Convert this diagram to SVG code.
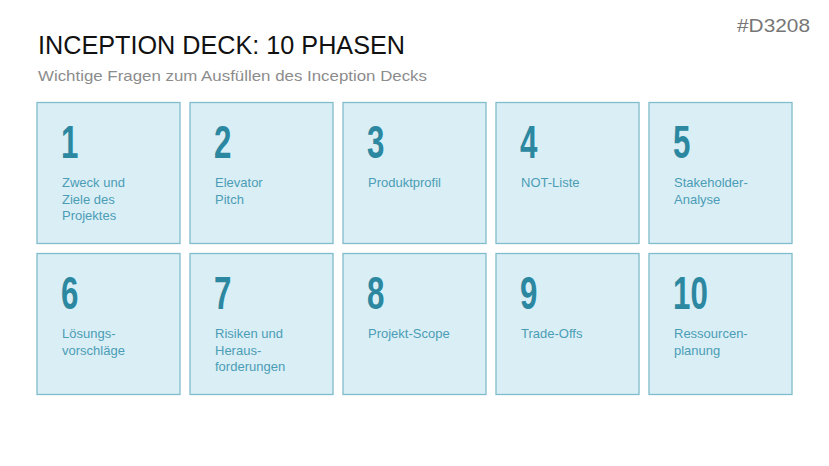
<svg xmlns="http://www.w3.org/2000/svg" width="829" height="466" viewBox="0 0 829 466">
<style>
.box{fill:#daeef5;stroke:#80bccb;stroke-width:1.3}
.num{font-family:"Liberation Sans",Arial,sans-serif;font-weight:bold;font-size:46px;fill:#2b88a0}
.lbl{font-family:"Liberation Sans",Arial,sans-serif;font-size:13px;fill:#4b9db5}
.title{font-family:"Liberation Sans",Arial,sans-serif;font-size:25.5px;fill:#111}
.sub{font-family:"Liberation Sans",Arial,sans-serif;font-size:15px;fill:#8c8c8c}
.code{font-family:"Liberation Sans",Arial,sans-serif;font-size:18.5px;fill:#767676}
</style>
<rect width="829" height="466" fill="#fff"/>
<text class="code" x="737" y="31.5" textLength="73" lengthAdjust="spacingAndGlyphs">#D3208</text>
<text class="title" x="38" y="53.5" textLength="367" lengthAdjust="spacingAndGlyphs">INCEPTION DECK: 10 PHASEN</text>
<text class="sub" x="38" y="80.5" textLength="389" lengthAdjust="spacingAndGlyphs">Wichtige Fragen zum Ausfüllen des Inception Decks</text>

<g id="n1"><rect class="box" x="37" y="102.5" width="143" height="141"/>
<text class="num" transform="translate(61,157.7) scale(0.68,1)">1</text>
<text class="lbl" x="62" y="187"><tspan x="62">Zweck und</tspan><tspan x="62" dy="16.7">Ziele des</tspan><tspan x="62" dy="16.7">Projektes</tspan></text></g>

<g id="n2"><rect class="box" x="190" y="102.5" width="143" height="141"/>
<text class="num" transform="translate(214,157.7) scale(0.68,1)">2</text>
<text class="lbl" x="215" y="187"><tspan x="215">Elevator</tspan><tspan x="215" dy="16.7">Pitch</tspan></text></g>

<g id="n3"><rect class="box" x="343" y="102.5" width="143" height="141"/>
<text class="num" transform="translate(367,157.7) scale(0.68,1)">3</text>
<text class="lbl" x="368" y="187">Produktprofil</text></g>

<g id="n4"><rect class="box" x="496" y="102.5" width="143" height="141"/>
<text class="num" transform="translate(520,157.7) scale(0.68,1)">4</text>
<text class="lbl" x="521" y="187">NOT-Liste</text></g>

<g id="n5"><rect class="box" x="649" y="102.5" width="143" height="141"/>
<text class="num" transform="translate(673,157.7) scale(0.68,1)">5</text>
<text class="lbl" x="674" y="187"><tspan x="674">Stakeholder-</tspan><tspan x="674" dy="16.7">Analyse</tspan></text></g>

<g id="n6"><rect class="box" x="37" y="253.5" width="143" height="141"/>
<text class="num" transform="translate(61,308.5) scale(0.68,1)">6</text>
<text class="lbl" x="62" y="338"><tspan x="62">Lösungs-</tspan><tspan x="62" dy="16.7">vorschläge</tspan></text></g>

<g id="n7"><rect class="box" x="190" y="253.5" width="143" height="141"/>
<text class="num" transform="translate(214,308.5) scale(0.68,1)">7</text>
<text class="lbl" x="215" y="338"><tspan x="215">Risiken und</tspan><tspan x="215" dy="16.7">Heraus-</tspan><tspan x="215" dy="16.7">forderungen</tspan></text></g>

<g id="n8"><rect class="box" x="343" y="253.5" width="143" height="141"/>
<text class="num" transform="translate(367,308.5) scale(0.68,1)">8</text>
<text class="lbl" x="368" y="338">Projekt-Scope</text></g>

<g id="n9"><rect class="box" x="496" y="253.5" width="143" height="141"/>
<text class="num" transform="translate(520,308.5) scale(0.68,1)">9</text>
<text class="lbl" x="521" y="338">Trade-Offs</text></g>

<g id="n10"><rect class="box" x="649" y="253.5" width="143" height="141"/>
<text class="num" transform="translate(673,308.5) scale(0.68,1)">10</text>
<text class="lbl" x="674" y="338"><tspan x="674">Ressourcen-</tspan><tspan x="674" dy="16.7">planung</tspan></text></g>

<g id="connectors"></g>
</svg>
